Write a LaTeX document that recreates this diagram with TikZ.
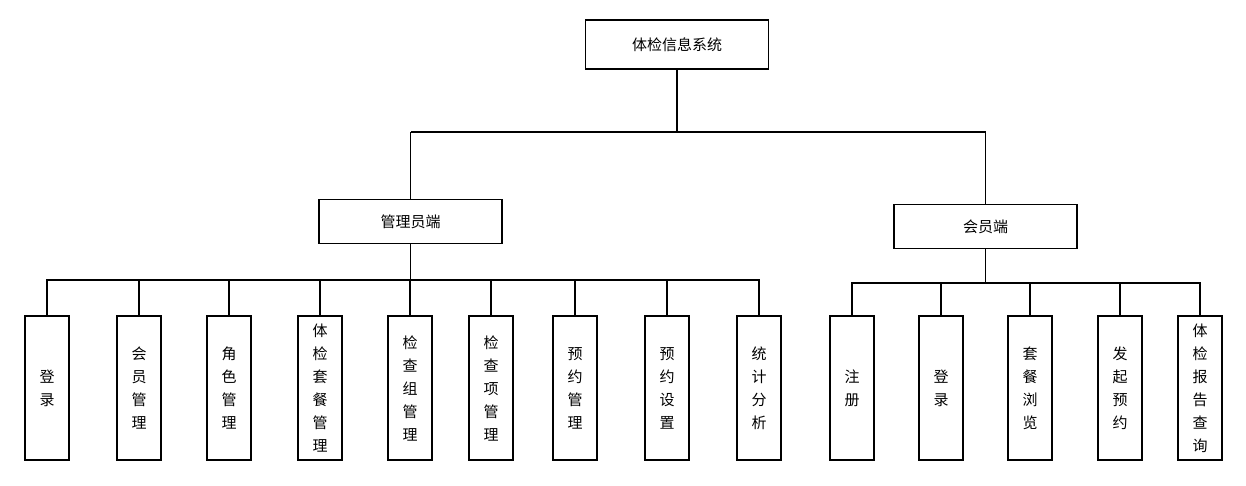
\documentclass[tikz,border=0pt]{standalone}
\usepackage{fontspec}
\newfontfamily\cjk{Noto Sans CJK SC}
\begin{document}
\begin{tikzpicture}[x=1pt,y=-1pt,
  box/.style={draw,line width=1.6pt,minimum width=183pt,minimum height=44pt,font=\cjk\fontsize{15}{15}\selectfont},
  leaf/.style={draw,line width=1.6pt,minimum width=44pt,minimum height=144pt,align=center,font=\cjk\fontsize{15}{23}\selectfont},
  conn/.style={line width=1.2pt}]
\useasboundingbox (0,0) rectangle (1246,485);
\node[box,minimum height=49pt] (root) at (677,44.5) {体检信息系统};
\node[box] (adm) at (410.5,221.5) {管理员端};
\node[box] (mem) at (985.5,226.5) {会员端};
\coordinate (j) at (677,132);
\draw[conn] (root.south) -- (j);
\draw[conn] (410.5,132) -| (mem.north);
\draw[conn] (410.5,132) -- (adm.north);
\foreach \n/\x/\t in {a1/47/登\\录,a2/139/会\\员\\管\\理,a3/229/角\\色\\管\\理,a4/320/体\\检\\套\\餐\\管\\理,a5/410/检\\查\\组\\管\\理,a6/491/检\\查\\项\\管\\理,a7/575/预\\约\\管\\理,a8/667/预\\约\\设\\置,a9/759/统\\计\\分\\析}{
  \node[leaf] (\n) at (\x,388) {\t};
  \draw[conn] (adm.south) -- (410.5,280) -| (\n.north);
}
\foreach \n/\x/\t in {m1/852/注\\册,m2/941/登\\录,m3/1030/套\\餐\\浏\\览,m4/1120/发\\起\\预\\约,m5/1200/体\\检\\报\\告\\查\\询}{
  \node[leaf] (\n) at (\x,388) {\t};
  \draw[conn] (mem.south) -- (985.5,283) -| (\n.north);
}
\end{tikzpicture}
\end{document}
